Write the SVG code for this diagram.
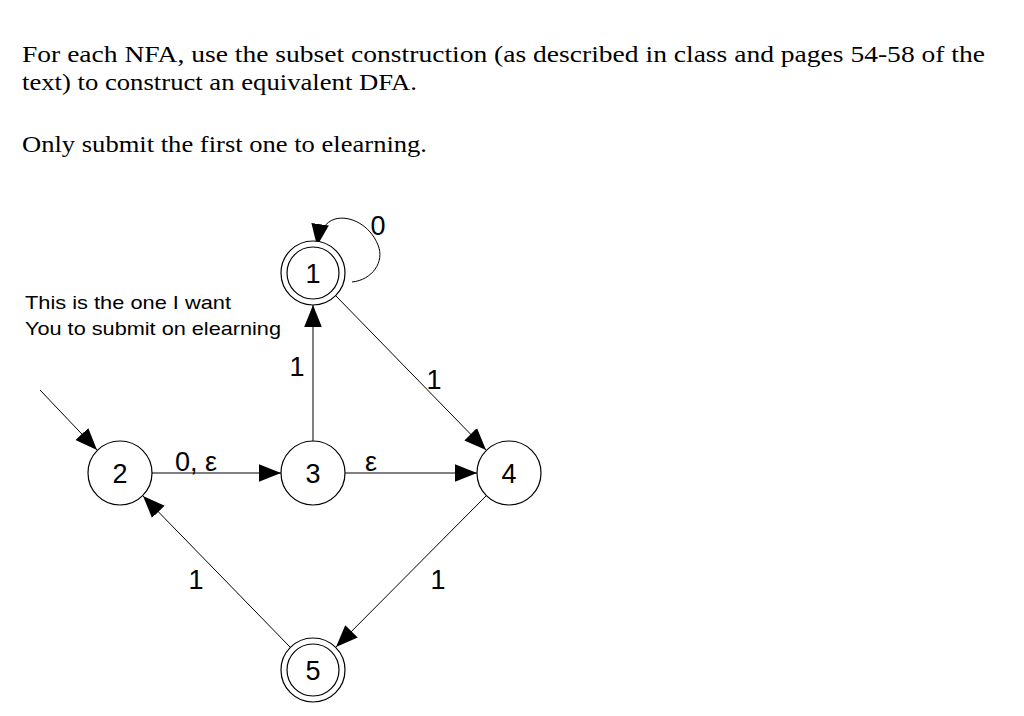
<svg xmlns="http://www.w3.org/2000/svg" width="1024" height="716" viewBox="0 0 1024 716">
<style>
.t{font-family:"Liberation Serif",serif;font-size:22.5px;fill:#000}
.n{fill:#fff;stroke:#000;stroke-width:1.2}
.l{font-family:"Liberation Sans",sans-serif;font-size:27px;fill:#000;text-anchor:middle}
.c{fill:none;stroke:#000;stroke-width:1}
.s{font-family:"Liberation Sans",sans-serif;font-size:19px;fill:#000}
</style>
<defs><marker id="a" viewBox="0 0 10 10" refX="10" refY="5" markerWidth="22" markerHeight="22" markerUnits="userSpaceOnUse" orient="auto"><path d="M0,1 L10,5 L0,9 z" fill="#000"/></marker></defs>
<rect width="1024" height="716" fill="#fff"/>
<text class="t" x="22" y="62" textLength="963" lengthAdjust="spacingAndGlyphs">For each NFA, use the subset construction (as described in class and pages 54-58 of the</text>
<text class="t" x="22" y="90" textLength="395" lengthAdjust="spacingAndGlyphs">text) to construct an equivalent DFA.</text>
<text class="t" x="22" y="152" textLength="405" lengthAdjust="spacingAndGlyphs">Only submit the first one to elearning.</text>
<text class="s" x="25" y="309" textLength="206" lengthAdjust="spacingAndGlyphs">This is the one I want</text>
<text class="s" x="25" y="335" textLength="256" lengthAdjust="spacingAndGlyphs">You to submit on elearning</text>
<g id="connectors">
<path class="c" d="M40,390 L97,450" marker-end="url(#a)" stroke-width="0.7"/>
<path class="c" d="M152,473 L281,473" marker-end="url(#a)"/>
<path class="c" d="M345,473 L477,473" marker-end="url(#a)"/>
<path class="c" d="M313,441 L313,305" marker-end="url(#a)"/>
<path class="c" d="M336,296 L486,450" marker-end="url(#a)"/>
<path class="c" d="M486,496 L336,647" marker-end="url(#a)"/>
<path class="c" d="M290,647 L143,496" marker-end="url(#a)"/>
<path class="c" d="M352,282 C372,280 385,262 378,245 C370,225 350,215 335,219 C325,222 319,232 317,246" marker-end="url(#a)"/>
<text class="l" x="196" y="471">0, ε</text>
<text class="l" x="371" y="471">ε</text>
<text class="l" x="297" y="376">1</text>
<text class="l" x="434" y="389">1</text>
<text class="l" x="196" y="589">1</text>
<text class="l" x="438" y="589">1</text>
<text class="l" x="378" y="235">0</text>
</g>
<g id="n1"><circle class="n" cx="313" cy="273" r="32"/><circle class="n" cx="313" cy="273" r="26"/><text class="l" x="313" y="283">1</text></g>
<g id="n2"><circle class="n" cx="120" cy="473" r="32"/><text class="l" x="120" y="483">2</text></g>
<g id="n3"><circle class="n" cx="313" cy="473" r="32"/><text class="l" x="313" y="483">3</text></g>
<g id="n4"><circle class="n" cx="509" cy="473" r="32"/><text class="l" x="509" y="483">4</text></g>
<g id="n5"><circle class="n" cx="313" cy="670" r="32"/><circle class="n" cx="313" cy="670" r="26"/><text class="l" x="313" y="680">5</text></g>
</svg>
